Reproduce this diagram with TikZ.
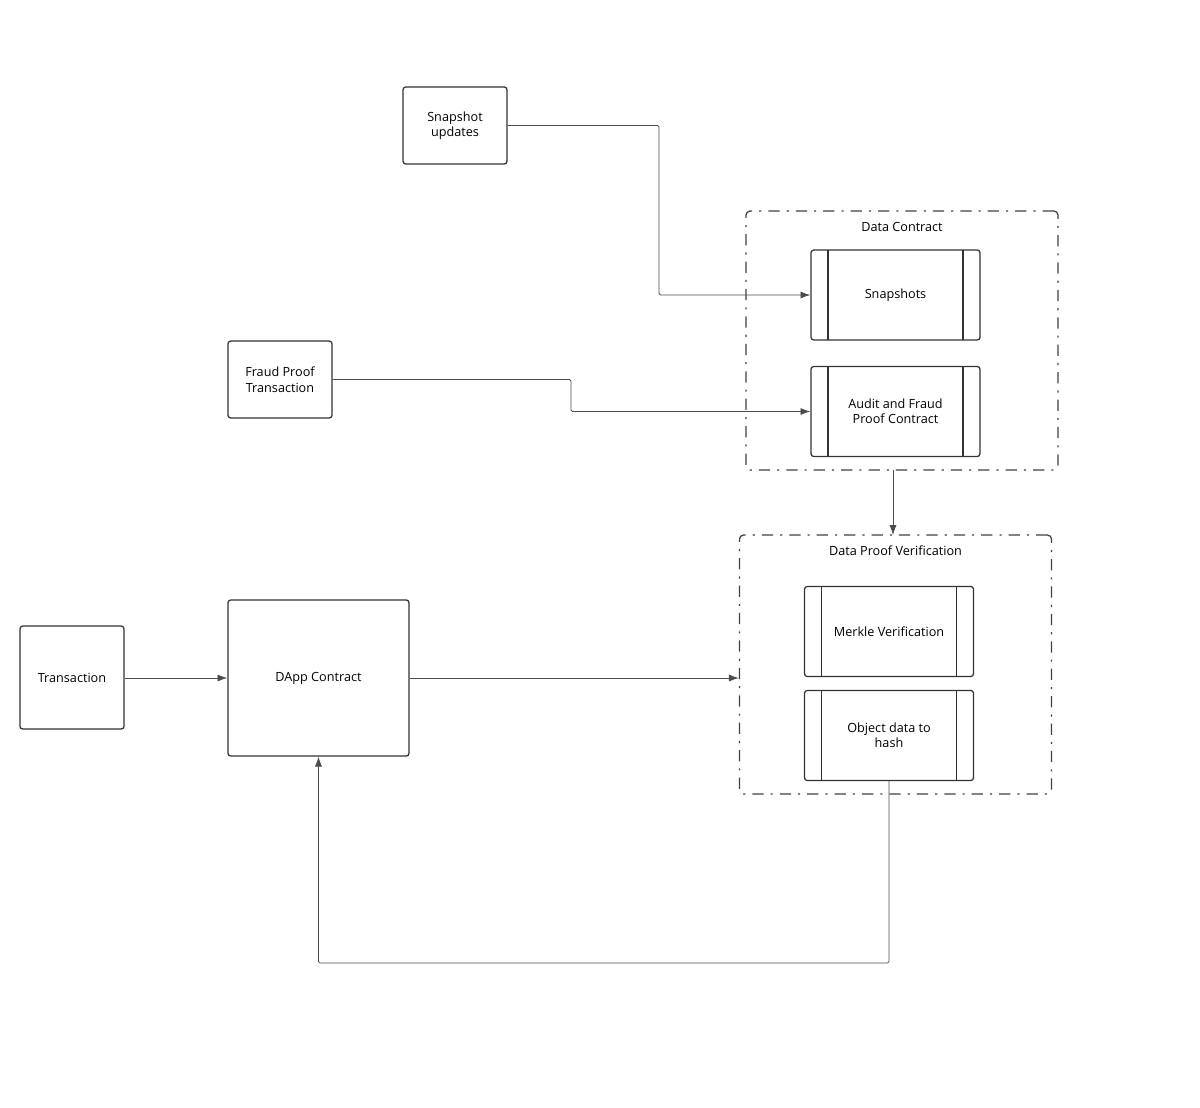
\documentclass[tikz,border=0pt]{standalone}
\usepackage{fontspec}
\setmainfont{Open Sans}
\usetikzlibrary{positioning, arrows.meta}
\tikzset{
	block/.style={draw=black!80, rectangle, rounded corners=2pt, line width=0.9pt, align=center, font=\small, inner sep=2pt},
	proc/.style={block, minimum width=4.225cm, minimum height=2.25cm, path picture={
		\draw[black!80, line width=0.9pt] ([xshift=0.425cm]path picture bounding box.north west) -- ([xshift=0.425cm]path picture bounding box.south west);
		\draw[black!80, line width=0.9pt] ([xshift=-0.425cm]path picture bounding box.north east) -- ([xshift=-0.425cm]path picture bounding box.south east);}},
	group/.style={draw=black!75, rectangle, rounded corners=3pt, line width=0.9pt, dash pattern=on 8pt off 5pt on 1.5pt off 5pt, minimum width=7.8cm, minimum height=6.475cm},
	title/.style={font=\small, inner sep=1pt},
}
\begin{document}
\begin{tikzpicture}[x=0.025cm, y=-0.025cm]
	\useasboundingbox (0,0) rectangle (1200,1107);
	
	\node (dc) [group] at (902,340.5) {};
	\node (dct) [title, below=0.25cm of dc.north] {Data Contract};
	\node (dpv) [group] at (895.5,664.5) {};
	\node (dpvt) [title, below=0.25cm of dpv.north] {Data Proof Verification};
	
	\node (su) [block, minimum width=2.6cm, minimum height=1.925cm] at (455,125.5) {Snapshot\\updates};
	\node (fp) [block, minimum width=2.6cm, minimum height=1.925cm] at (280,379.5) {Fraud Proof\\Transaction};
	\node (snap) [proc] at (895.5,295) {Snapshots};
	\node (audit) [proc] at (895.5,411.5) {Audit and Fraud\\Proof Contract};
	\node (merkle) [proc] at (889,631.5) {Merkle Verification};
	\node (obj) [proc] at (889,735.5) {Object data to\\hash};
	\node (tx) [block, minimum width=2.6cm, minimum height=2.575cm] at (72,677.5) {Transaction};
	\node (dapp) [block, minimum width=4.525cm, minimum height=3.9cm] at (318.5,678) {DApp Contract};
	
	\begin{scope}[black!70, line width=0.6pt, -{Latex[length=7pt, width=5pt]}, rounded corners=1pt]
		\draw (su.east) -| (659,295) -- (snap.west);
		\draw (fp.east) -| (571,411.5) -- (audit.west);
		\draw (893,470) -- (893,535);
		\draw (tx.east |- dapp.west) -- (dapp.west);
		\draw (dapp.east) -- (dpv.west |- dapp.east);
		\draw (obj.south) |- (318.5,963) -- (dapp.south);
	\end{scope}
	
\end{tikzpicture}
\end{document}
